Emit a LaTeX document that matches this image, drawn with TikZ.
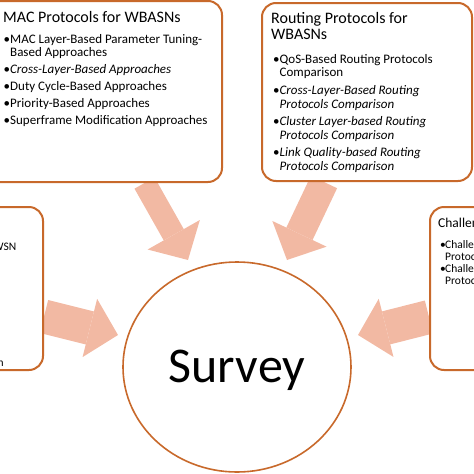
\documentclass[tikz,border=0pt]{standalone}
\usepackage{fontspec}
\setmainfont{Carlito}
\usepackage{tikz}
\usetikzlibrary{arrows.meta,shapes.geometric,backgrounds}
\usepackage{xcolor}
\definecolor{rimorange}{HTML}{C8692B}
\definecolor{salmon}{HTML}{F2B9A3}
\tikzset{
  panel/.style={rectangle, rounded corners=14pt, draw=rimorange, line width=2pt, fill=white},
  hub/.style={ellipse, draw=rimorange, line width=1.6pt, fill=white, minimum width=228pt, minimum height=210pt, font=\fontsize{50}{50}\selectfont},
  heading/.style={anchor=north west, inner sep=0pt, align=left, font=\fontsize{16}{16}\selectfont},
  items/.style={anchor=north west, inner sep=0pt, align=left, font=\fontsize{13}{13.6}\selectfont},
  sidetext/.style={inner sep=0pt, font=\fontsize{11.5}{11.3}\selectfont},
  fatarrow/.style={draw=salmon, line cap=butt, -{Triangle[length=29pt, width=60pt, line width=0pt]}}
}
\newcommand{\bul}{\makebox[6.5pt][l]{•}}
\newcommand{\hang}{\hspace*{6.5pt}}

\begin{document}
\begin{tikzpicture}[x=1pt, y=-1pt]
  \useasboundingbox (0,0) rectangle (474,474);
  \clip (0,0) rectangle (474,474);

  \node[panel, minimum width=242pt, minimum height=181pt] (mac) at (101,91.5) {};
  \node[panel, minimum width=210pt, minimum height=178pt] (routing) at (367,92) {};
  \node[panel, minimum width=80pt, minimum height=163pt] (wsnbox) at (3,288.5) {};
  \node[panel, minimum width=80pt, minimum height=163pt] (challenges) at (470,288.5) {};
  \node[hub, text height=36pt, text depth=6pt] (survey) at (237,367) {Survey};

  \node[heading] (mactitle) at (3,10.8) {\strut MAC Protocols for WBASNs};
  \node[items] (maclist) at (3.5,33.5) {\strut\bul MAC Layer-Based Parameter Tuning-\\
    \hang Based Approaches\\[3.4pt]
    \bul\textit{Cross-Layer-Based Approaches}\\[3.4pt]
    \bul Duty Cycle-Based Approaches\\[3.4pt]
    \bul Priority-Based Approaches\\[3.4pt]
    \bul Superframe Modification Approaches};

  \node[heading] (routingtitle) at (271,11.8) {\strut Routing Protocols for\\WBASNs};
  \node[items] (routinglist) at (273,53.5) {\strut\bul QoS-Based Routing Protocols\\
    \hang Comparison\\[4pt]
    \bul\textit{Cross-Layer-Based Routing}\\
    \hang\textit{Protocols Comparison}\\[4pt]
    \bul\textit{Cluster Layer-based Routing}\\
    \hang\textit{Protocols Comparison}\\[4pt]
    \bul\textit{Link Quality-based Routing}\\
    \hang\textit{Protocols Comparison}};

  \node[sidetext, anchor=base west, font=\fontsize{13.5}{14}\selectfont] (challtitle) at (438,227) {Challenges};
  \node[sidetext, anchor=north west, align=left] (challlist) at (440,240) {\strut\makebox[5pt][l]{•}Challenges\\
    \hspace*{5pt}Protocols\\[1pt]
    \makebox[5pt][l]{•}Challenges\\
    \hspace*{5pt}Protocols};

  \node[sidetext, anchor=base east] (wsnline) at (16.5,250) {WSN};
  \node[sidetext, anchor=base east] (wsnlast) at (4,366) {Comparison};

  \coordinate (tipmac) at (188,260);
  \coordinate (tiprouting) at (287,260);
  \coordinate (tipwsn) at (118,335);
  \coordinate (tipchallenges) at (358,335);

  \begin{scope}[on background layer]
    \draw[fatarrow, line width=23pt] ([xshift=43.5pt]mac.south) -- (tipmac);
    \draw[fatarrow, line width=29pt] ([xshift=-43pt]routing.south) -- (tiprouting);
    \draw[fatarrow, line width=34pt] ([yshift=-28pt]wsnbox.east) -- (tipwsn);
    \draw[fatarrow, line width=34pt] ([yshift=-28.5pt]challenges.west) -- (tipchallenges);
  \end{scope}
\end{tikzpicture}
\end{document}
